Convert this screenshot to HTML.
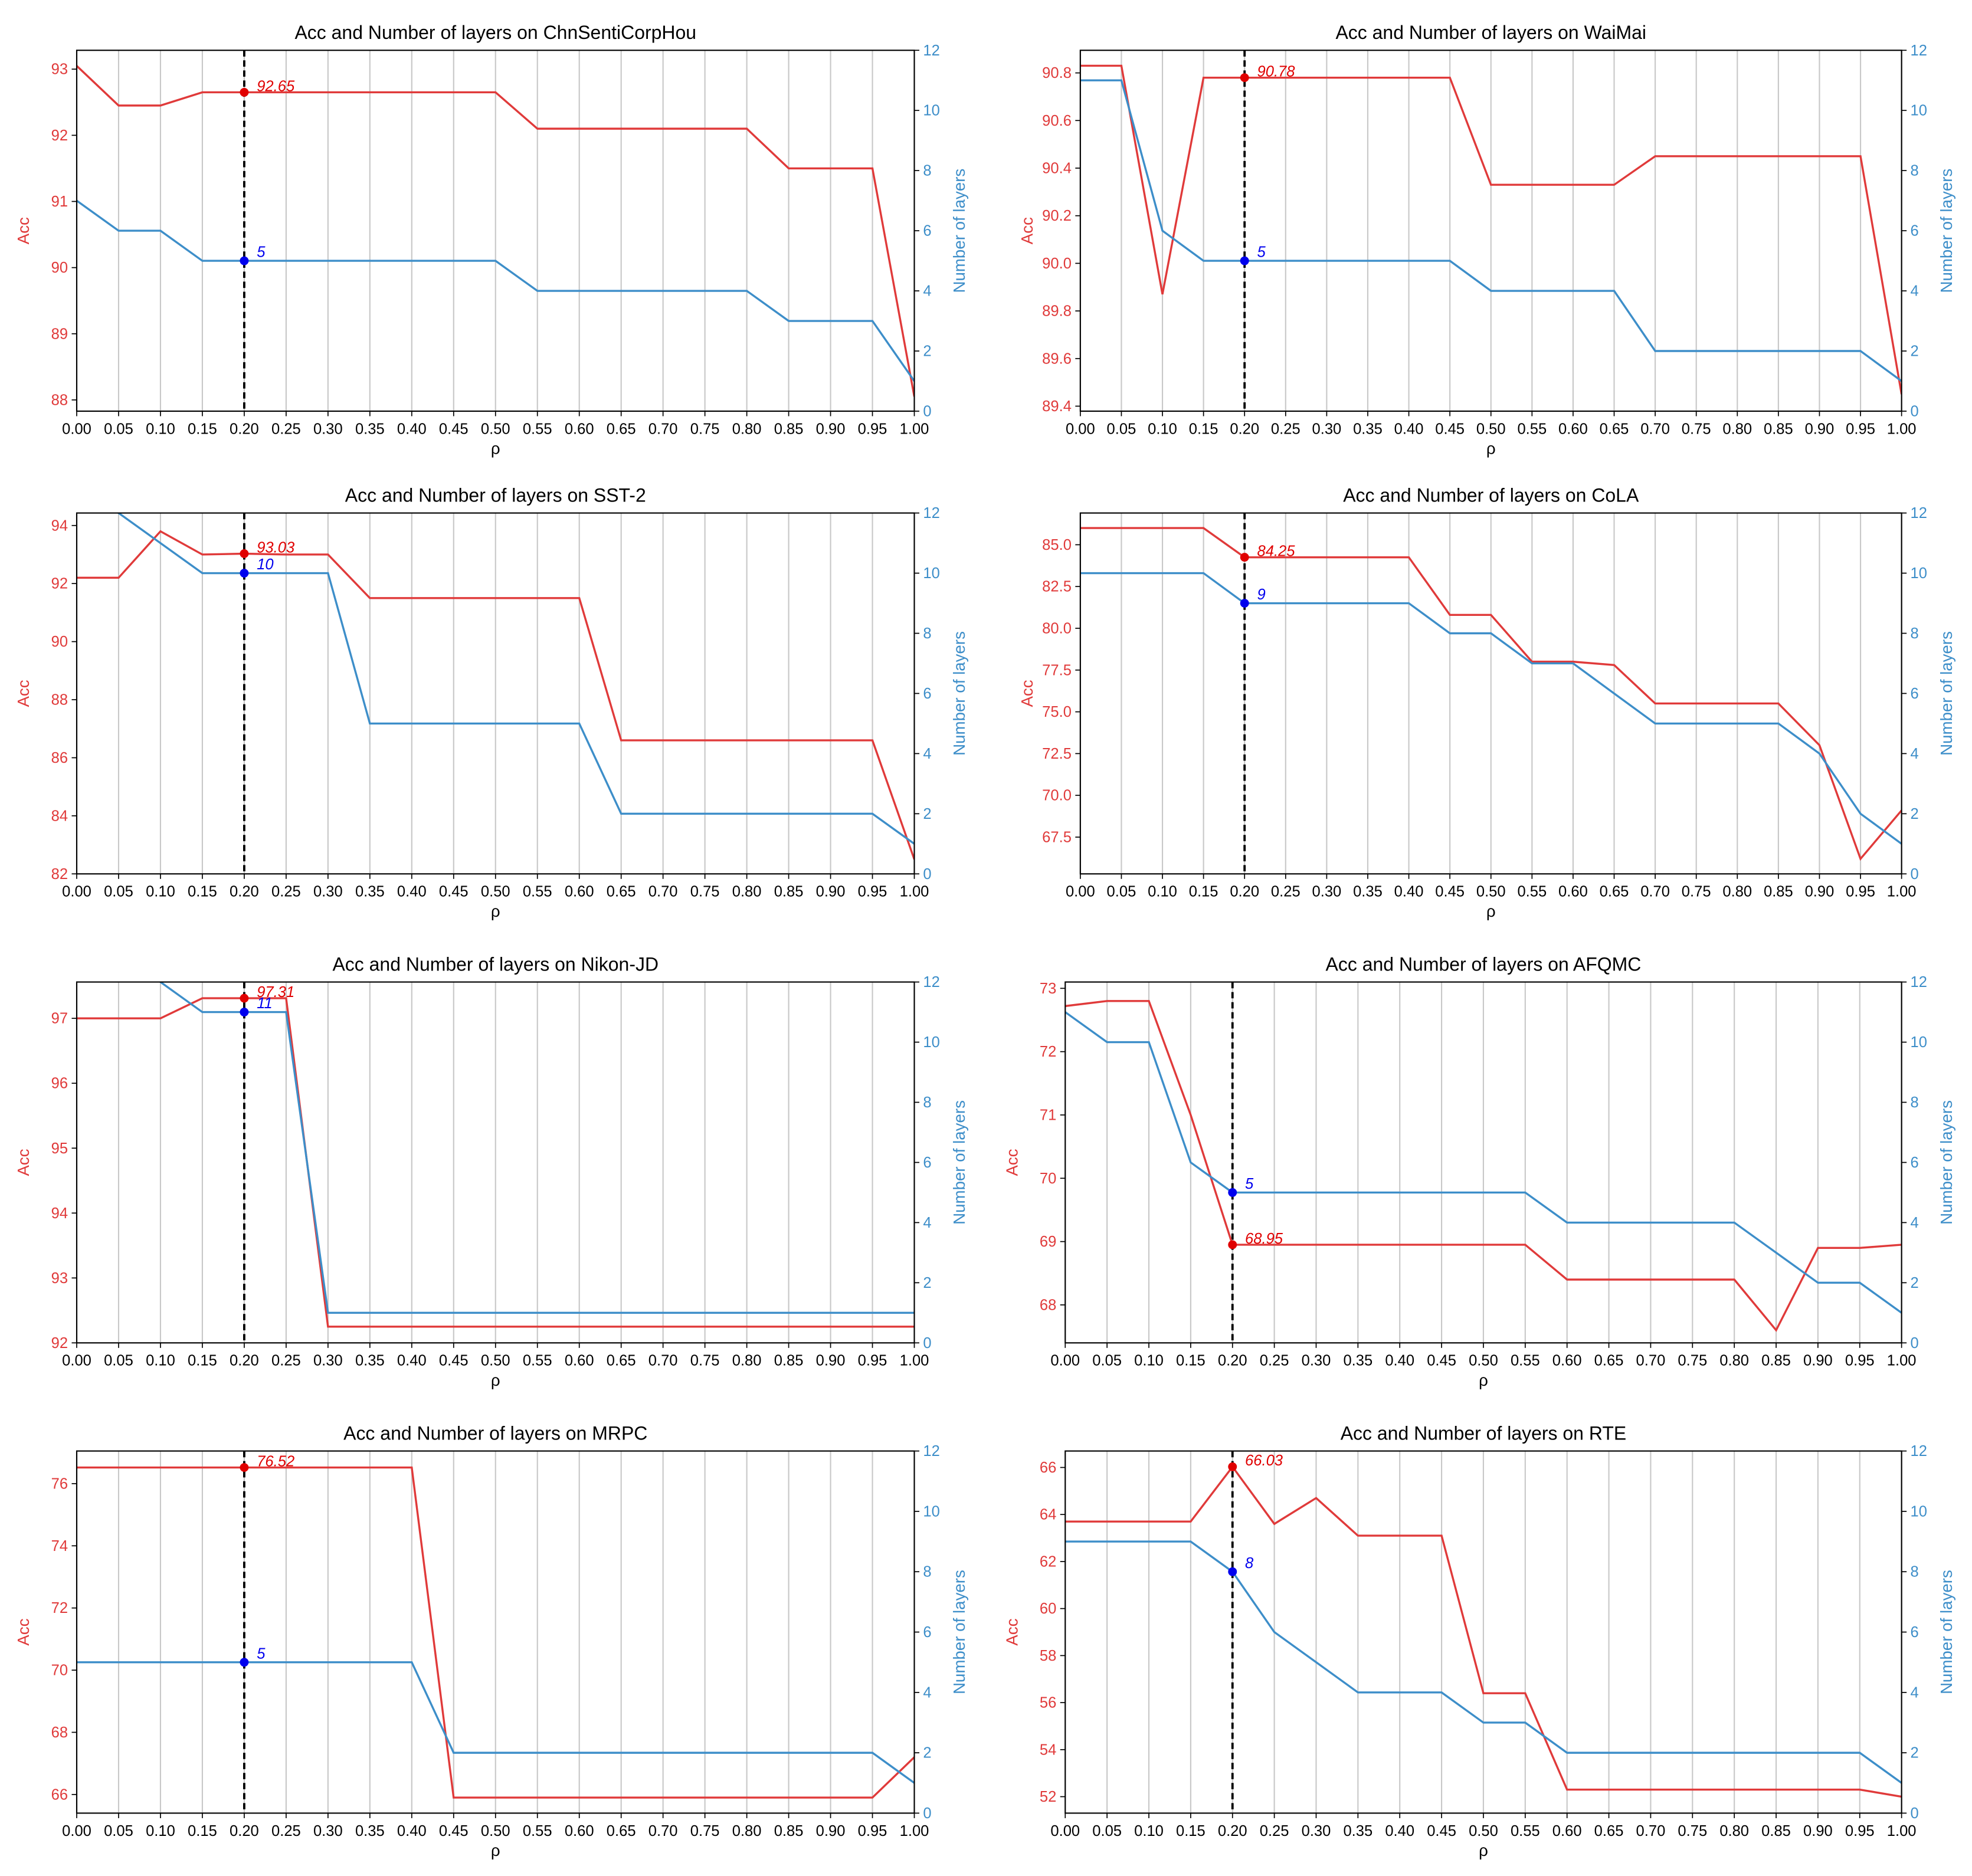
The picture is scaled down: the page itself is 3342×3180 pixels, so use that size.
<!DOCTYPE html>
<html><head><meta charset="utf-8">
<style>
html,body{margin:0;padding:0;background:#fff;}
svg{display:block;font-family:"Liberation Sans","DejaVu Sans",sans-serif;}
</style></head>
<body>
<svg id="chart" xmlns="http://www.w3.org/2000/svg" width="3342" height="3180" viewBox="0 0 1568 1492" preserveAspectRatio="none"></svg>
<script>
// ---- data (x = rho from 0.00 to 1.00 step 0.05) ----
const rhoValues = [0,0.05,0.1,0.15,0.2,0.25,0.3,0.35,0.4,0.45,0.5,0.55,0.6,0.65,0.7,0.75,0.8,0.85,0.9,0.95,1.0];
const xTickLabels = ["0.00","0.05","0.10","0.15","0.20","0.25","0.30","0.35","0.40","0.45","0.50","0.55","0.60","0.65","0.70","0.75","0.80","0.85","0.90","0.95","1.00"];
const panelTitles = ["ChnSentiCorpHou","WaiMai","SST-2","CoLA","Nikon-JD","AFQMC","MRPC","RTE"];
const accChn = [93.05,92.45,92.45,92.65,92.65,92.65,92.65,92.65,92.65,92.65,92.65,92.1,92.1,92.1,92.1,92.1,92.1,91.5,91.5,91.5,88.05];
const layChn = [7,6,6,5,5,5,5,5,5,5,5,4,4,4,4,4,4,3,3,3,1];
const accWai = [90.83,90.83,89.87,90.78,90.78,90.78,90.78,90.78,90.78,90.78,90.33,90.33,90.33,90.33,90.45,90.45,90.45,90.45,90.45,90.45,89.45];
const layWai = [11,11,6,5,5,5,5,5,5,5,4,4,4,4,2,2,2,2,2,2,1];
const accSst = [92.2,92.2,93.8,93.0,93.03,93.0,93.0,91.5,91.5,91.5,91.5,91.5,91.5,86.6,86.6,86.6,86.6,86.6,86.6,86.6,82.5];
const laySst = [13,12,11,10,10,10,10,5,5,5,5,5,5,2,2,2,2,2,2,2,1];
const accCola = [86.0,86.0,86.0,86.0,84.25,84.25,84.25,84.25,84.25,80.8,80.8,78.0,78.0,77.8,75.5,75.5,75.5,75.5,73.0,66.2,69.1];
const layCola = [10,10,10,10,9,9,9,9,9,8,8,7,7,6,5,5,5,5,4,2,1];
const accNikon = [97.0,97.0,97.0,97.31,97.31,97.31,92.25,92.25,92.25,92.25,92.25,92.25,92.25,92.25,92.25,92.25,92.25,92.25,92.25,92.25,92.25];
const layNikon = [13,13,12,11,11,11,1,1,1,1,1,1,1,1,1,1,1,1,1,1,1];
const accAfq = [72.72,72.8,72.8,71.0,68.95,68.95,68.95,68.95,68.95,68.95,68.95,68.95,68.4,68.4,68.4,68.4,68.4,67.6,68.9,68.9,68.95];
const layAfq = [11,10,10,6,5,5,5,5,5,5,5,5,4,4,4,4,4,3,2,2,1];
const accMrpc = [76.52,76.52,76.52,76.52,76.52,76.52,76.52,76.52,76.52,65.9,65.9,65.9,65.9,65.9,65.9,65.9,65.9,65.9,65.9,65.9,67.2];
const layMrpc = [5,5,5,5,5,5,5,5,5,2,2,2,2,2,2,2,2,2,2,2,1];
const accRte = [63.7,63.7,63.7,63.7,66.03,63.6,64.7,63.1,63.1,63.1,56.4,56.4,52.3,52.3,52.3,52.3,52.3,52.3,52.3,52.3,52.0];
const layRte = [9,9,9,9,8,6,5,4,4,4,3,3,2,2,2,2,2,2,2,2,1];
const accLabels = ["92.65","90.78","93.03","84.25","97.31","68.95","76.52","66.03"];
const layLabels = ["5","5","10","9","11","5","5","8"];
const accTicks = [[88,89,90,91,92,93],[89.4,89.6,89.8,90.0,90.2,90.4,90.6,90.8],[82,84,86,88,90,92,94],[67.5,70.0,72.5,75.0,77.5,80.0,82.5,85.0],[92,93,94,95,96,97],[68,69,70,71,72,73],[66,68,70,72,74,76],[52,54,56,58,60,62,64,66]];
const accDecimals = [0,1,0,1,0,0,0,0];
const layTicks = [0,2,4,6,8,10,12];
const accSeries = [accChn,accWai,accSst,accCola,accNikon,accAfq,accMrpc,accRte];
const laySeries = [layChn,layWai,laySst,layCola,layNikon,layAfq,layMrpc,layRte];
const accLimits = [[87.83,93.285],[89.379,90.895],[82,94.43],[65.3,86.9],[92,97.56],[67.4,73.1],[65.4,77.05],[51.3,66.7]];
const highlightIndex = 4;
// ---- layout ----
const boxes = [[61,40,727,327],[859,40,1512,327],[61,408,727,695],[859,408,1512,695],[61,781,727,1068],[847,781,1512,1068],[61,1154,727,1442],[847,1154,1512,1442]];
const RED="#e03a3a", BLUE="#3d8ec9";
const svg=document.getElementById('chart');
const NS="http://www.w3.org/2000/svg";
function mk(tag,attrs,parent){const e=document.createElementNS(NS,tag);for(const k in attrs)e.setAttribute(k,attrs[k]);(parent||svg).appendChild(e);return e;}
function txt(s,attrs,parent){const e=mk('text',attrs,parent);e.textContent=s;return e;}
const defs=mk('defs',{});
boxes.forEach((b,p)=>{
  const [x0,y0,x1,y1]=b;
  const g=mk('g',{});
  
  
  const cp=mk('clipPath',{id:'cp'+p},defs);
  mk('rect',{x:x0,y:y0,width:x1-x0,height:y1-y0},cp);
  const xs=v=>x0+(v-0)*(x1-x0)/1.0;
  const [amin,amax]=accLimits[p];
  const ya=v=>y1-(v-amin)*(y1-y0)/(amax-amin);
  const yl=v=>y1-v*(y1-y0)/12;
  rhoValues.forEach((r,i)=>{
    const gl=mk('line',{x1:xs(r),x2:xs(r),y1:y0,y2:y1,stroke:'#c8c8c8','stroke-width':1},g);
    
    
    mk('line',{x1:xs(r),x2:xs(r),y1:y1,y2:y1+4,stroke:'#000','stroke-width':0.8},g);
    const t=txt(xTickLabels[i],{x:xs(r),y:y1+18,'font-size':12,'text-anchor':'middle',fill:'#000'},g);
    
    
  });
  accTicks[p].forEach(v=>{
    mk('line',{x1:x0-4,x2:x0,y1:ya(v),y2:ya(v),stroke:'#000','stroke-width':0.8},g);
    const t=txt(v.toFixed(accDecimals[p]),{x:x0-7,y:ya(v)+4,'font-size':12,'text-anchor':'end',fill:RED},g);
    
    
  });
  layTicks.forEach(v=>{
    mk('line',{x1:x1,x2:x1+4,y1:yl(v),y2:yl(v),stroke:'#000','stroke-width':0.8},g);
    const t=txt(String(v),{x:x1+7,y:yl(v)+4,'font-size':12,'text-anchor':'start',fill:BLUE},g);
    
    
  });
  const dl=mk('line',{x1:xs(rhoValues[highlightIndex]),x2:xs(rhoValues[highlightIndex]),y1:y0,y2:y1,stroke:'#000','stroke-width':1.8,'stroke-dasharray':'5,3'},g);
  
  
  const cg=mk('g',{'clip-path':'url(#cp'+p+')'},g);
  const ap=mk('polyline',{points:accSeries[p].map((v,i)=>xs(rhoValues[i])+','+ya(v)).join(' '),fill:'none',stroke:RED,'stroke-width':1.6},cg);
  
  
  const lp=mk('polyline',{points:laySeries[p].map((v,i)=>xs(rhoValues[i])+','+yl(v)).join(' '),fill:'none',stroke:BLUE,'stroke-width':1.6},cg);
  
  
  const hx=xs(rhoValues[highlightIndex]);
  const ad=mk('circle',{cx:hx,cy:ya(accSeries[p][highlightIndex]),r:3.5,fill:'#e00000'},g);
  
  
  const ld=mk('circle',{cx:hx,cy:yl(laySeries[p][highlightIndex]),r:3.5,fill:'#0000ee'},g);
  
  
  const at=txt(accLabels[p],{x:hx+10,y:ya(accSeries[p][highlightIndex])-1,'font-size':12,'font-style':'italic',fill:'#e00000'},g);
  
  
  const lt=txt(layLabels[p],{x:hx+10,y:yl(laySeries[p][highlightIndex])-3,'font-size':12,'font-style':'italic',fill:'#0000ee'},g);
  
  
  const fr=mk('rect',{x:x0,y:y0,width:x1-x0,height:y1-y0,fill:'none',stroke:'#000','stroke-width':1},g);
  
  
  const tt=txt('Acc and Number of layers on '+panelTitles[p],{x:(x0+x1)/2,y:y0-9,'font-size':15,'text-anchor':'middle',fill:'#000'},g);
  
  
  const xl=txt('ρ',{x:(x0+x1)/2,y:y1+34,'font-size':13,'text-anchor':'middle',fill:'#000'},g);
  
  
  const lx=x0-38, my=(y0+y1)/2;
  const yt=txt('Acc',{x:lx,y:my,'font-size':13,'text-anchor':'middle',fill:RED,transform:'rotate(-90 '+lx+' '+my+')'},g);
  
  
  const rx=x1+40;
  const rt=txt('Number of layers',{x:rx,y:my,'font-size':13,'text-anchor':'middle',fill:BLUE,transform:'rotate(-90 '+rx+' '+my+')'},g);
  
  
});
</script>
</body></html>
